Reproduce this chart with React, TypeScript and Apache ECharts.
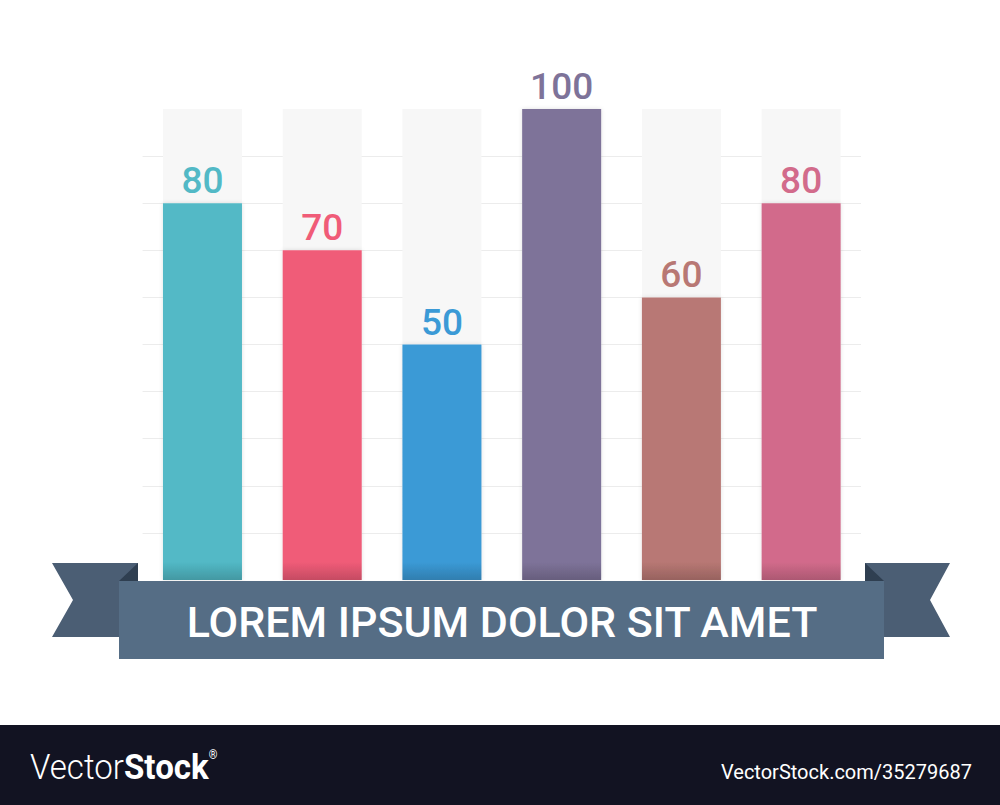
import React, { useEffect, useRef } from "react";
import * as echarts from "echarts";

const categories = ["A", "B", "C", "D", "E", "F"];
const values = [80, 70, 50, 100, 60, 80];
const barColors = ["#52b9c6", "#f05c78", "#3b9ad6", "#7e7399", "#b87874", "#d26b8b"];
const bandTitle = "LOREM IPSUM DOLOR SIT AMET";
const footerLeftA = "Vector";
const footerLeftB = "Stock";
const footerRight = "VectorStock.com/35279687";

function shade(hex: string, f: number) {
  const n = parseInt(hex.slice(1), 16);
  const r = Math.round(((n >> 16) & 255) * f);
  const g = Math.round(((n >> 8) & 255) * f);
  const b = Math.round((n & 255) * f);
  return `rgb(${r},${g},${b})`;
}

export default function App() {
  const ref = useRef<HTMLDivElement>(null);
  useEffect(() => {
    const chart = echarts.init(ref.current!, null, { renderer: "svg" });
    const gridColors = ["rgba(0,0,0,0)"];
    for (let i = 0; i < 9; i++) gridColors.push("#ececec");
    gridColors.push("rgba(0,0,0,0)");
    chart.setOption({
      animation: false,
      backgroundColor: "#ffffff",
      grid: { left: 142.6, right: 139, top: 109, bottom: 225 },
      xAxis: {
        type: "category",
        data: categories,
        show: false,
      },
      yAxis: {
        type: "value",
        min: 0,
        max: 100,
        interval: 10,
        axisLabel: { show: false },
        axisLine: { show: false },
        axisTick: { show: false },
        splitLine: { show: true, lineStyle: { color: gridColors, width: 1 } },
      },
      series: [
        {
          type: "bar",
          barWidth: 79,
          showBackground: true,
          backgroundStyle: { color: "#f7f7f7" },
          data: values.map((v, i) => ({
            value: v,
            itemStyle: {
              color: new echarts.graphic.LinearGradient(0, 0, 0, 1, [
                { offset: 0, color: barColors[i] },
                { offset: 1 - 18 / (v * 4.71), color: barColors[i] },
                { offset: 1, color: shade(barColors[i], 0.82) },
              ]),
              shadowBlur: 4,
              shadowColor: "rgba(0,0,0,0.12)",
            },
            label: { color: barColors[i] },
          })),
          label: {
            show: true,
            position: "top",
            distance: 4,
            fontSize: 37,
            fontWeight: 500,
            fontFamily: "Roboto",
          },
        },
      ],
      graphic: [
        // left tail
        {
          type: "polygon",
          z: 100,
          shape: { points: [[52, 563], [138, 563], [138, 637], [52, 637], [73, 600]] },
          style: { fill: "#4b5e74" },
        },
        {
          type: "polygon",
          z: 101,
          shape: { points: [[119, 581], [138, 563], [138, 581]] },
          style: { fill: "#2f3f51" },
        },
        // right tail
        {
          type: "polygon",
          z: 100,
          shape: { points: [[865, 563], [950, 563], [930, 600], [950, 637], [865, 637]] },
          style: { fill: "#4b5e74" },
        },
        {
          type: "polygon",
          z: 101,
          shape: { points: [[865, 563], [884, 581], [865, 581]] },
          style: { fill: "#2f3f51" },
        },
        // main band
        {
          type: "rect",
          z: 102,
          shape: { x: 119, y: 581, width: 765, height: 78 },
          style: { fill: "#556d85" },
        },
        {
          type: "text",
          z: 103,
          x: 502,
          y: 622,
          style: {
            text: bandTitle,
            fill: "#ffffff",
            fontSize: 43,
            fontWeight: 500,
            fontFamily: "Roboto",
            align: "center",
            verticalAlign: "middle",
          },
        },
        // footer
        {
          type: "rect",
          z: 100,
          shape: { x: 0, y: 725, width: 1000, height: 80 },
          style: { fill: "#121322" },
        },
        {
          type: "text",
          z: 101,
          x: 30,
          y: 767,
          scaleX: 0.92,
          style: {
            text: `{a|${footerLeftA}}{b|${footerLeftB}}{c|®}`,
            verticalAlign: "middle",
            align: "left",
            rich: {
              a: { fontSize: 36, fontWeight: 300, fill: "#ffffff", fontFamily: "Roboto" },
              b: { fontSize: 36, fontWeight: 700, fill: "#ffffff", fontFamily: "Roboto" },
              c: { fontSize: 12, fill: "#ffffff", fontFamily: "Roboto", verticalAlign: "top", padding: [0, 0, 18, 0] },
            },
          },
        },
        {
          type: "text",
          z: 101,
          x: 972,
          y: 772,
          style: {
            text: footerRight,
            fill: "#ffffff",
            fontSize: 20,
            fontFamily: "Roboto",
            align: "right",
            verticalAlign: "middle",
          },
        },
      ],
    });
    return () => chart.dispose();
  }, []);
  return (
    <div
      ref={ref}
      style={{ position: "fixed", left: 0, top: 0, width: 1000, height: 805 }}
    />
  );
}
